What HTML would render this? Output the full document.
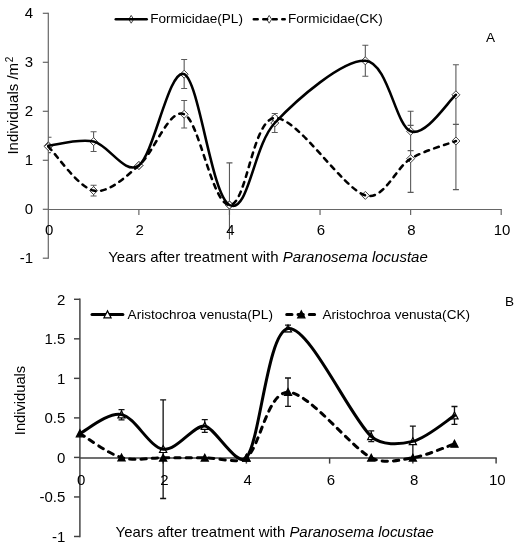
<!DOCTYPE html>
<html><head><meta charset="utf-8"><title>Figure</title>
<style>html,body{margin:0;padding:0;background:#fff}svg{display:block}</style>
</head><body>
<svg width="521" height="550" viewBox="0 0 521 550">
<rect width="521" height="550" fill="#fff"/>
<g stroke="#666" stroke-width="1.2" fill="none">
<path d="M48.3,12.7 V258.8"/>
<path d="M42.8,13.30 H48.3"/>
<path d="M42.8,62.30 H48.3"/>
<path d="M42.8,111.30 H48.3"/>
<path d="M42.8,160.30 H48.3"/>
<path d="M42.8,209.30 H48.3"/>
<path d="M42.8,258.20 H48.3"/>
<path d="M48.3,209.5 H501.8"/>
<path d="M138.88,209.5 V215"/>
<path d="M229.46,209.5 V215"/>
<path d="M320.04,209.5 V215"/>
<path d="M410.62,209.5 V215"/>
<path d="M501.20,209.5 V215"/>
</g>
<g stroke="#5a5a5a" stroke-width="1.1" fill="none">
<path d="M93.59,131.80 V151.50 M90.59,131.80 h6.00 M90.59,151.50 h6.00"/>
<path d="M93.59,185.30 V196.00 M90.59,185.30 h6.00 M90.59,196.00 h6.00"/>
<path d="M184.17,59.50 V88.50 M181.17,59.50 h6.00 M181.17,88.50 h6.00"/>
<path d="M184.17,100.50 V128.00 M181.17,100.50 h6.00 M181.17,128.00 h6.00"/>
<path d="M229.46,162.90 V239.20 M226.46,162.90 h6.00"/>
<path d="M274.75,113.50 V132.50 M271.75,113.50 h6.00 M271.75,116.00 h6.00 M271.75,120.20 h6.00 M271.75,132.50 h6.00"/>
<path d="M365.33,45.30 V76.30 M362.33,45.30 h6.00 M362.33,76.30 h6.00"/>
<path d="M410.62,111.30 V192.40 M407.62,111.30 h6.00 M407.62,125.40 h6.00 M407.62,150.60 h6.00 M407.62,192.40 h6.00"/>
<path d="M455.91,64.80 V189.60 M452.91,64.80 h6.00 M452.91,124.40 h6.00 M452.91,189.60 h6.00"/>
<path d="M48.3,137.3 h3.2 M48.3,152.6 h2.6"/>
</g>
<g fill="#fff" stroke="#3a3a3a" stroke-width="0.95">
<path d="M48.30,141.80 l4.00,4.00 l-4.00,4.00 l-4.00,-4.00 z"/>
<path d="M93.59,137.60 l4.00,4.00 l-4.00,4.00 l-4.00,-4.00 z"/>
<path d="M138.88,161.50 l4.00,4.00 l-4.00,4.00 l-4.00,-4.00 z"/>
<path d="M184.17,70.20 l4.00,4.00 l-4.00,4.00 l-4.00,-4.00 z"/>
<path d="M229.46,201.00 l4.00,4.00 l-4.00,4.00 l-4.00,-4.00 z"/>
<path d="M274.75,119.00 l4.00,4.00 l-4.00,4.00 l-4.00,-4.00 z"/>
<path d="M365.33,56.80 l4.00,4.00 l-4.00,4.00 l-4.00,-4.00 z"/>
<path d="M410.62,127.30 l4.00,4.00 l-4.00,4.00 l-4.00,-4.00 z"/>
<path d="M455.91,90.80 l4.00,4.00 l-4.00,4.00 l-4.00,-4.00 z"/>
<path d="M48.30,142.60 l4.00,4.00 l-4.00,4.00 l-4.00,-4.00 z"/>
<path d="M93.59,186.60 l4.00,4.00 l-4.00,4.00 l-4.00,-4.00 z"/>
<path d="M138.88,161.50 l4.00,4.00 l-4.00,4.00 l-4.00,-4.00 z"/>
<path d="M184.17,110.25 l4.00,4.00 l-4.00,4.00 l-4.00,-4.00 z"/>
<path d="M229.46,201.00 l4.00,4.00 l-4.00,4.00 l-4.00,-4.00 z"/>
<path d="M274.75,114.00 l4.00,4.00 l-4.00,4.00 l-4.00,-4.00 z"/>
<path d="M365.33,191.40 l4.00,4.00 l-4.00,4.00 l-4.00,-4.00 z"/>
<path d="M410.62,154.70 l4.00,4.00 l-4.00,4.00 l-4.00,-4.00 z"/>
<path d="M455.91,137.00 l4.00,4.00 l-4.00,4.00 l-4.00,-4.00 z"/>
</g>
<path d="M48.30,145.80 C55.85,145.10 78.77,138.38 93.59,141.60 C108.69,144.88 125.19,175.69 138.88,165.50 C153.98,154.27 169.07,67.62 184.17,74.20 C199.27,80.78 211.34,195.24 229.46,205.00 C248.33,215.17 253.34,145.73 274.75,123.00 C297.39,98.97 342.69,59.42 365.33,60.80 C387.97,62.18 395.52,125.63 410.62,131.30 C425.72,136.97 448.36,100.88 455.91,94.80" fill="none" stroke="#000" stroke-width="2.55" stroke-linecap="round" stroke-linejoin="round"/>
<path d="M48.30,146.60 C55.85,153.93 78.49,187.45 93.59,190.60 C108.69,193.75 125.68,176.62 138.88,165.50 C153.98,152.78 169.07,107.67 184.17,114.25 C199.27,120.83 212.10,204.28 229.46,205.00 C246.82,205.72 252.10,119.60 274.75,118.00 C297.39,116.40 342.69,188.62 365.33,195.40 C383.94,200.98 395.52,167.77 410.62,158.70 C424.52,150.35 448.36,143.95 455.91,141.00" fill="none" stroke="#000" stroke-width="2.55" stroke-dasharray="4.7 5.5" stroke-linecap="round"/>
<g fill="#fff" stroke="#3a3a3a" stroke-width="0.95"><path d="M131.2,15.4 l2.4,3.9 l-2.4,3.9 l-2.4,-3.9 z"/><path d="M269.2,15.4 l2.4,3.9 l-2.4,3.9 l-2.4,-3.9 z"/></g>
<path d="M115.8,19.3 H146.7" stroke="#000" stroke-width="2.55" stroke-linecap="round"/>
<path d="M253.8,19.3 H284.7" stroke="#000" stroke-width="2.55" stroke-dasharray="3.9 5.6" stroke-linecap="round"/>
<g font-family="Liberation Sans, Arial, Helvetica, sans-serif" font-size="13.55" fill="#000">
<text x="150.3" y="23">Formicidae(PL)</text>
<text x="288" y="23">Formicidae(CK)</text>
<text x="486.1" y="41.7">A</text>
</g>
<g font-family="Liberation Sans, Arial, Helvetica, sans-serif" font-size="15" fill="#000">
<text x="33.0" y="18.0" text-anchor="end">4</text>
<text x="33.0" y="67.0" text-anchor="end">3</text>
<text x="33.0" y="116.0" text-anchor="end">2</text>
<text x="33.0" y="165.0" text-anchor="end">1</text>
<text x="33.0" y="214.0" text-anchor="end">0</text>
<text x="33.0" y="263.0" text-anchor="end">-1</text>
<text x="49.1" y="235.4" text-anchor="middle">0</text>
<text x="139.7" y="235.4" text-anchor="middle">2</text>
<text x="230.3" y="235.4" text-anchor="middle">4</text>
<text x="320.8" y="235.4" text-anchor="middle">6</text>
<text x="411.4" y="235.4" text-anchor="middle">8</text>
<text x="502.0" y="235.4" text-anchor="middle">10</text>
<text x="108.2" y="262.3" font-size="15">Years after treatment with <tspan font-style="italic">Paranosema locustae</tspan></text>
<text transform="translate(17.9,154.6) rotate(-90)" font-size="15">Individuals /m<tspan font-size="10" dy="-5" dx="0.6">2</tspan></text>
</g>
<g stroke="#404040" stroke-width="1.45" fill="none">
<path d="M79.9,298.6 V537.2"/>
<path d="M74,299.30 H79.9"/>
<path d="M74,338.83 H79.9"/>
<path d="M74,378.36 H79.9"/>
<path d="M74,417.89 H79.9"/>
<path d="M74,457.42 H79.9"/>
<path d="M74,496.95 H79.9"/>
<path d="M74,536.48 H79.9"/>
<path d="M79.9,457.9 H496.8"/>
<path d="M163.14,457.9 V463.6"/>
<path d="M246.38,457.9 V463.6"/>
<path d="M329.62,457.9 V463.6"/>
<path d="M412.86,457.9 V463.6"/>
<path d="M496.10,457.9 V463.6"/>
</g>
<g stroke="#111" stroke-width="1.3" fill="none">
<path d="M121.52,409.60 V419.80 M118.52,409.60 h6.00 M118.52,419.80 h6.00"/>
<path d="M163.14,399.80 V498.50 M160.14,399.80 h6.00 M160.14,498.50 h6.00"/>
<path d="M204.76,419.70 V432.30 M201.76,419.70 h6.00 M201.76,432.30 h6.00"/>
<path d="M288.00,325.20 V331.60 M285.00,325.20 h6.00 M285.00,331.60 h6.00"/>
<path d="M288.00,378.00 V406.40 M285.00,378.00 h6.00 M285.00,406.40 h6.00"/>
<path d="M371.24,430.80 V441.60 M368.24,430.80 h6.00 M368.24,441.60 h6.00"/>
<path d="M412.86,426.20 V457.40 M409.86,426.20 h6.00 M409.86,457.40 h6.00"/>
<path d="M454.48,406.50 V424.40 M451.48,406.50 h6.00 M451.48,424.40 h6.00"/>
</g>
<g fill="#fff" stroke="#000" stroke-width="1.2" stroke-linejoin="miter">
<path d="M121.52,411.00 L125.12,417.90 L117.92,417.90 z"/>
<path d="M163.14,445.60 L166.74,452.50 L159.54,452.50 z"/>
<path d="M204.76,422.40 L208.36,429.30 L201.16,429.30 z"/>
<path d="M246.38,454.20 L249.98,461.10 L242.78,461.10 z"/>
<path d="M288.00,325.00 L291.60,331.90 L284.40,331.90 z"/>
<path d="M371.24,432.80 L374.84,439.70 L367.64,439.70 z"/>
<path d="M412.86,437.80 L416.46,444.70 L409.26,444.70 z"/>
<path d="M454.48,412.00 L458.08,418.90 L450.88,418.90 z"/>
</g>
<path d="M79.90,433.50 C86.84,430.35 107.65,411.98 121.52,414.60 C135.39,417.22 149.27,447.30 163.14,449.20 C177.01,451.10 193.66,424.85 204.76,426.00 C214.47,427.00 237.31,468.42 246.38,457.80 C260.25,441.57 267.19,332.17 288.00,328.60 C308.81,325.03 350.43,417.60 371.24,436.40 C381.61,445.77 399.30,444.79 412.86,441.40 C426.73,437.93 447.54,419.90 454.48,415.60" fill="none" stroke="#000" stroke-width="3.0" stroke-linecap="round" stroke-linejoin="round"/>
<path d="M79.90,433.50 C86.84,437.52 107.65,453.55 121.52,457.60 C134.84,461.49 149.27,457.77 163.14,457.80 C177.01,457.83 190.89,457.80 204.76,457.80 C218.63,457.80 238.21,464.24 246.38,457.80 C260.25,446.87 267.19,392.20 288.00,392.20 C308.81,392.20 350.43,446.87 371.24,457.80 C383.52,464.25 399.18,460.09 412.86,457.80 C426.73,455.48 447.54,446.22 454.48,443.90" fill="none" stroke="#000" stroke-width="3.0" stroke-dasharray="5.3 6" stroke-linecap="round"/>
<g fill="#000" stroke="#000" stroke-width="1.2">
<path d="M79.90,429.90 L83.50,436.80 L76.30,436.80 z"/>
<path d="M121.52,454.00 L125.12,460.90 L117.92,460.90 z"/>
<path d="M163.14,454.20 L166.74,461.10 L159.54,461.10 z"/>
<path d="M204.76,454.20 L208.36,461.10 L201.16,461.10 z"/>
<path d="M246.38,454.20 L249.98,461.10 L242.78,461.10 z"/>
<path d="M288.00,388.60 L291.60,395.50 L284.40,395.50 z"/>
<path d="M371.24,454.20 L374.84,461.10 L367.64,461.10 z"/>
<path d="M412.86,454.20 L416.46,461.10 L409.26,461.10 z"/>
<path d="M454.48,440.30 L458.08,447.20 L450.88,447.20 z"/>
</g>
<path d="M92,314.5 H122.9" stroke="#000" stroke-width="3.0" stroke-linecap="round"/>
<path d="M286.7,314.5 H314.7" stroke="#000" stroke-width="3.0" stroke-dasharray="5.3 6" stroke-linecap="round"/>
<g fill="#fff" stroke="#000" stroke-width="1.2"><path d="M107.50,310.90 L111.10,317.80 L103.90,317.80 z"/></g>
<g fill="#000" stroke="#000" stroke-width="1.2"><path d="M301.30,310.90 L304.90,317.80 L297.70,317.80 z"/></g>
<g font-family="Liberation Sans, Arial, Helvetica, sans-serif" font-size="13.55" fill="#000">
<text x="127.6" y="319.2">Aristochroa venusta(PL)</text>
<text x="322.4" y="319.2">Aristochroa venusta(CK)</text>
<text x="505.1" y="305.6">B</text>
</g>
<g font-family="Liberation Sans, Arial, Helvetica, sans-serif" font-size="15" fill="#000">
<text x="65.4" y="304.5" text-anchor="end">2</text>
<text x="65.4" y="344.0" text-anchor="end">1.5</text>
<text x="65.4" y="383.6" text-anchor="end">1</text>
<text x="65.4" y="423.1" text-anchor="end">0.5</text>
<text x="65.4" y="462.6" text-anchor="end">0</text>
<text x="65.4" y="502.2" text-anchor="end">-0.5</text>
<text x="65.4" y="541.7" text-anchor="end">-1</text>
<text x="81.1" y="485.1" text-anchor="middle">0</text>
<text x="164.3" y="485.1" text-anchor="middle">2</text>
<text x="247.6" y="485.1" text-anchor="middle">4</text>
<text x="330.8" y="485.1" text-anchor="middle">6</text>
<text x="414.1" y="485.1" text-anchor="middle">8</text>
<text x="497.3" y="485.1" text-anchor="middle">10</text>
<text x="115.6" y="537.3" font-size="14.95">Years after treatment with <tspan font-style="italic">Paranosema locustae</tspan></text>
<text transform="translate(25.4,435.2) rotate(-90)" font-size="14.7">Individuals</text>
</g>
</svg>
</body></html>
